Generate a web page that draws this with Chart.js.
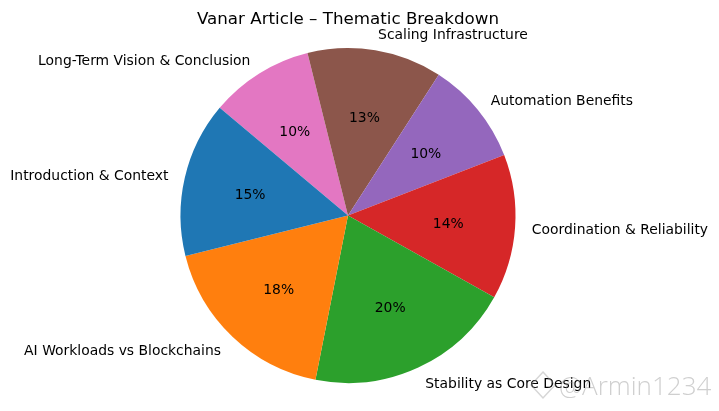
<!DOCTYPE html>
<html>
<head>
<meta charset="utf-8">
<script src="https://cdn.jsdelivr.net/npm/chart.js@4"></script>
<style>
html,body{margin:0;padding:0;background:#fff;}
#c{display:block;}
</style>
</head>
<body>
<canvas id="c" width="719" height="411"></canvas>
<script>
const categories = [
  "Introduction & Context",
  "AI Workloads vs Blockchains",
  "Stability as Core Design",
  "Coordination & Reliability",
  "Automation Benefits",
  "Scaling Infrastructure",
  "Long-Term Vision & Conclusion"
];
const values = [15, 18, 20, 14, 10, 13, 10];
const colors = ["#1f77b4", "#ff7f0e", "#2ca02c", "#d62728", "#9467bd", "#8c564b", "#e377c2"];
const titleText = "Vanar Article \u2013 Thematic Breakdown";
const watermark = "@Armin1234";

// matplotlib draws counterclockwise; Chart.js draws clockwise -> reverse order
const labelsR = categories.slice().reverse();
const valuesR = values.slice().reverse();
const colorsR = colors.slice().reverse();

const FONT = "'DejaVu Sans', sans-serif";

const labelPlugin = {
  id: 'mplLabels',
  afterDraw(chart) {
    const ctx = chart.ctx;
    const meta = chart.getDatasetMeta(0);
    const total = valuesR.reduce((a, b) => a + b, 0);
    const dy = 2;
    ctx.save();
    meta.data.forEach((arc, i) => {
      const p = arc.getProps(['x', 'y', 'startAngle', 'endAngle', 'outerRadius'], true);
      const mid = (p.startAngle + p.endAngle) / 2;
      const cx = Math.cos(mid), sy = Math.sin(mid);
      ctx.fillStyle = '#000';
      ctx.font = "13.9px " + FONT;
      ctx.textAlign = 'center';
      ctx.textBaseline = 'middle';
      const pct = Math.round(valuesR[i] / total * 100) + '%';
      ctx.fillText(pct, p.x + cx * p.outerRadius * 0.6, p.y + sy * p.outerRadius * 0.6 + dy);
      const lx = p.x + cx * p.outerRadius * 1.1;
      const ly = p.y + sy * p.outerRadius * 1.1;
      ctx.textAlign = cx > 0 ? 'left' : 'right';
      ctx.fillText(labelsR[i], lx, ly + dy);
    });
    ctx.font = "16.7px " + FONT;
    ctx.textAlign = 'center';
    ctx.textBaseline = 'alphabetic';
    ctx.fillStyle = '#000';
    ctx.fillText(titleText, meta.data[0].x, 24);
    ctx.globalAlpha = 0.4;
    ctx.fillStyle = '#888';
    ctx.font = "300 26px 'Open Sans', sans-serif";
    ctx.textAlign = 'left';
    ctx.fillText(watermark, 559, 395);
    ctx.strokeStyle = '#999';
    ctx.lineWidth = 1.5;
    ctx.beginPath();
    ctx.moveTo(543, 372); ctx.lineTo(555, 385); ctx.lineTo(543, 398); ctx.lineTo(531, 385); ctx.closePath();
    ctx.stroke();
    ctx.restore();
  }
};

new Chart(document.getElementById('c'), {
  type: 'pie',
  data: {
    labels: labelsR,
    datasets: [{
      data: valuesR,
      backgroundColor: colorsR,
      borderWidth: 0
    }]
  },
  options: {
    responsive: false,
    animation: false,
    rotation: -50,
    layout: { padding: { left: 180, right: 203, top: 48, bottom: 28 } },
    plugins: {
      legend: { display: false },
      tooltip: { enabled: false },
      title: { display: false }
    }
  },
  plugins: [labelPlugin]
});
</script>
</body>
</html>
